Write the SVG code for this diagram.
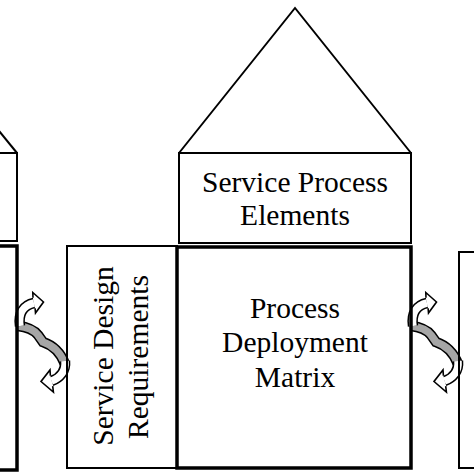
<svg xmlns="http://www.w3.org/2000/svg" xmlns:xlink="http://www.w3.org/1999/xlink" width="474" height="474" viewBox="0 0 474 474">
  <style>
    .thin { fill: none; stroke: #000; stroke-width: 2; }
    .thick { fill: none; stroke: #000; stroke-width: 3.5; }
    .lbl { font-family: "Liberation Serif", "Times New Roman", serif; font-size: 29.5px; fill: #000; text-anchor: middle; }
    .bandOut { fill: none; stroke: #000; stroke-width: 10.5; stroke-linecap: butt; stroke-linejoin: miter; }
    .bandGrey { fill: none; stroke: #a6a6a6; stroke-width: 7.5; stroke-linecap: butt; stroke-linejoin: miter; }
    .bandWhite { fill: none; stroke: #fff; stroke-width: 7.5; stroke-linecap: butt; stroke-linejoin: round; }
    .headFill { fill: #fff; stroke: none; }
    .headLine { fill: none; stroke: #000; stroke-width: 1.6; stroke-linejoin: miter; }
  </style>
  <defs>
    <g id="ribbon">
      <path class="bandOut" d="M 18,326 C 27,327 34,330 38,335 L 43,342 C 52,345 60,351 65,364"/>
      <path class="bandGrey" d="M 18,326 C 27,327 34,330 38,335 L 43,342 C 52,345 60,351 65,364"/>
      <path class="bandOut" d="M 20,326 C 18,313 24,305 34,303"/>
      <path class="bandWhite" d="M 20,326 C 18,313 24,305 34,303"/>
      <path class="bandOut" d="M 65,361 C 66,371 60,378 51.5,381"/>
      <path class="bandWhite" d="M 65,361 C 66,371 60,378 51.5,381"/>
      <polygon class="headFill" points="32.8,292.5 43.5,302 35.5,313 35.1,308.2 33,297.8"/>
      <polyline class="headLine" points="33,297.8 32.8,292.5 43.5,302 35.5,313 35.1,308.2"/>
      <polygon class="headFill" points="50,370 41,381.5 53.4,392 52.7,386.2 50.4,375.8"/>
      <polyline class="headLine" points="50.4,375.8 50,370 41,381.5 53.4,392 52.7,386.2"/>
    </g>
  </defs>
  <rect x="0" y="0" width="474" height="474" fill="#fff"/>

  <g id="connectors">
    <use xlink:href="#ribbon" href="#ribbon"/>
    <use xlink:href="#ribbon" href="#ribbon" transform="translate(393,0)"/>
  </g>

  <g id="left-house-roof">
    <line class="thin" x1="17" y1="153" x2="-5" y2="126"/>
    <rect class="thin" x="-10" y="153" width="27" height="88"/>
  </g>
  <g id="left-house-body">
    <rect class="thick" x="-10" y="246" width="27" height="224"/>
  </g>

  <g id="service-design-requirements">
    <rect class="thin" x="67" y="246" width="110" height="222"/>
    <text class="lbl" transform="translate(113,356) rotate(-90)">Service Design</text>
    <text class="lbl" transform="translate(148,357) rotate(-90)">Requirements</text>
  </g>

  <g id="roof">
    <polyline class="thin" points="179,153 295,8 411,153"/>
  </g>

  <g id="service-process-elements">
    <rect class="thin" x="179" y="153" width="232" height="90"/>
    <text class="lbl" x="295" y="192">Service Process</text>
    <text class="lbl" x="295" y="225">Elements</text>
  </g>

  <g id="process-deployment-matrix">
    <rect class="thick" x="177" y="247" width="234" height="221"/>
    <text class="lbl" x="295" y="318">Process</text>
    <text class="lbl" x="295" y="352">Deployment</text>
    <text class="lbl" x="295" y="387">Matrix</text>
  </g>

  <g id="right-box">
    <rect class="thin" x="459" y="252" width="40" height="216"/>
  </g>
</svg>
